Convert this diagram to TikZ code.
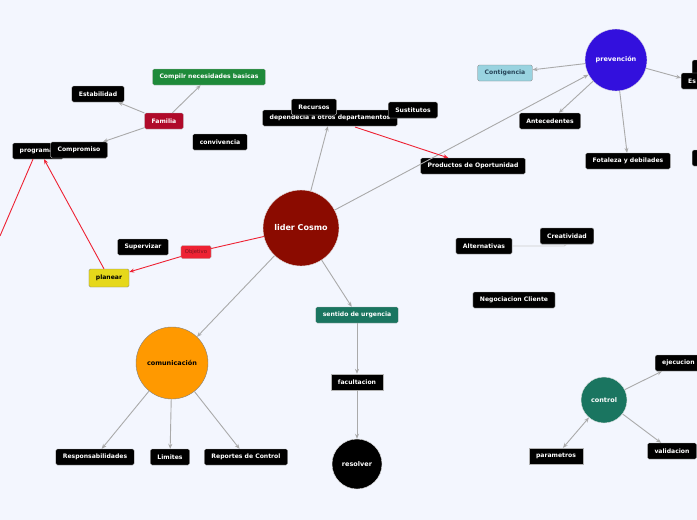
\documentclass[tikz,border=0pt]{standalone}
\usepackage{fontspec}
\setmainfont{DejaVu Sans}
\usetikzlibrary{arrows.meta}
\definecolor{bg}{HTML}{F3F6FE}
\definecolor{gr}{HTML}{AAAAAA}
\definecolor{rd}{HTML}{EE2233}
\tikzset{
 bx/.style={fill=black,draw=gray!60,rounded corners=1.5pt,text=white,font=\bfseries\fontsize{6.1}{7}\selectfont,inner xsep=7pt,minimum height=16pt,line width=0.3pt},
 sq/.style={bx,rounded corners=0pt},
 cir/.style={circle,draw=white!80!gray,text=white,font=\bfseries\fontsize{6.5}{7}\selectfont},
 ga/.style={draw=gr,line width=0.9pt,-{Stealth[length=5pt,width=4pt]}},
 ra/.style={draw=rd,line width=0.9pt,-{Stealth[length=5pt,width=4pt]}},
}
\begin{document}
\begin{tikzpicture}[x=1pt,y=-1pt]
\fill[bg] (0,0) rectangle (697,520);
\useasboundingbox (0,0) rectangle (697,520);
% circles
\node[cir,fill={rgb,255:red,139;green,11;blue,0},minimum size=76pt,font=\bfseries\fontsize{8}{9}\selectfont] (lider) at (301,228) {lider Cosmo};
\node[cir,fill={rgb,255:red,51;green,16;blue,221},minimum size=62pt] (prev) at (616,60) {prevención};
\node[cir,fill={rgb,255:red,255;green,153;blue,0},draw=gray,text=black,minimum size=72pt] (com) at (172,363) {comunicación};
\node[cir,fill={rgb,255:red,26;green,117;blue,96},minimum size=46pt] (ctrl) at (604,400) {control};
\node[cir,fill=black,minimum size=50pt] (res) at (357,464) {resolver};
% boxes
\node[bx] (prog) at (38,151) {programar};
\node[bx] (compro) at (79,150) {Compromiso};
\node[bx,fill={rgb,255:red,30;green,138;blue,58}] (cumpl) at (209,77) {Compilr necesidades basicas};
\node[bx] (estab) at (98,94) {Estabilidad};
\node[bx,fill={rgb,255:red,176;green,10;blue,42}] (fam) at (164,121) {Familia};
\node[bx] (conv) at (220,142) {convivencia};
\node[bx] (dep) at (330,118) {dependecia a otros departamentos};
\node[bx] (rec) at (314,107) {Recursos};
\node[bx] (sust) at (413,110) {Sustitutos};
\node[bx] (prod) at (473,166) {Productos de Oportunidad};
\node[bx,fill={rgb,255:red,153;green,211;blue,224},text={rgb,255:red,40;green,70;blue,90},draw=gray] (cont) at (505,73) {Contigencia};
\node[bx] (ante) at (550,121) {Antecedentes};
\node[bx] (fort) at (628,161) {Fotaleza y debilades};
\node[bx,anchor=west,minimum width=20pt] (esx) at (692,68) {};
\node[bx,anchor=west] (es) at (681,81) {Es};
\node[bx,anchor=west,minimum width=20pt] (cut2) at (692,158) {};
\node[bx] (sup) at (143,247) {Supervizar};
\node[bx,fill=rd,text={rgb,255:red,120;green,20;blue,30},font=\fontsize{5.3}{6}\selectfont,inner xsep=4pt,minimum height=13pt] (obj) at (196,252) {Objetivo};
\node[bx,fill={rgb,255:red,230;green,216;blue,26},text=black,draw=gray,minimum height=18pt] (plan) at (109,278) {planear};
\node[bx] (alt) at (484,246) {Alternativas};
\node[bx] (crea) at (567,236) {Creatividad};
\node[bx] (neg) at (514,300) {Negociacion Cliente};
\node[bx,fill={rgb,255:red,26;green,117;blue,96}] (urg) at (357,315) {sentido de urgencia};
\node[sq] (fac) at (357,382) {facultacion};
\node[bx] (resp) at (95,457) {Responsabilidades};
\node[bx] (lim) at (170,457) {Limites};
\node[bx] (rep) at (246,457) {Reportes de Control};
\node[bx,anchor=west] (ejec) at (655,363) {ejecucion};
\node[bx] (val) at (672,451) {validacion};
\node[sq] (par) at (556,456) {parametros};
% edges
\draw[ga] (lider) -- (dep);
\draw[ga] (lider) -- (prev);
\coordinate (d1) at (355,127);
\draw[ra] (d1) -- (prod);
\draw[ga] (lider) -- (com);
\draw[ga] (lider) -- (urg);
\draw[draw=rd,line width=0.9pt] (lider) -- (obj);
\draw[ra] (obj) -- (plan);
\draw[ra] (plan) -- ([xshift=6pt]prog.south);
\coordinate (off) at (0,236);
\draw[draw=rd,line width=0.9pt] ([xshift=-5pt]prog.south) -- (off);
\draw[ga] (fam) -- (estab);
\draw[ga] (fam) -- (cumpl);
\draw[ga] (fam) -- (compro);
\draw[ga] (prev) -- (cont);
\draw[ga] (prev) -- (ante);
\draw[ga] (prev) -- (fort);
\draw[ga] (prev) -- (es);
\draw[ga] (urg) -- (fac);
\draw[ga] (fac) -- (res);
\draw[ga] (com) -- (resp);
\draw[ga] (com) -- (lim);
\draw[ga] (com) -- (rep);
\draw[ga] (ctrl) -- (ejec);
\draw[ga] (ctrl) -- (val);
\draw[ga,{Stealth[length=5pt,width=4pt]}-{Stealth[length=5pt,width=4pt]}] (ctrl) -- (par);
\draw[draw=gray!40,line width=0.8pt] (alt.east) -- ++(52,0) -- (crea.south);
% redraw overlapping boxes on top
\node[bx] at (79,150) {Compromiso};
\node[bx] at (314,107) {Recursos};
\node[bx] at (413,110) {Sustitutos};
\node[bx] at (567,236) {Creatividad};
\end{tikzpicture}
\end{document}
